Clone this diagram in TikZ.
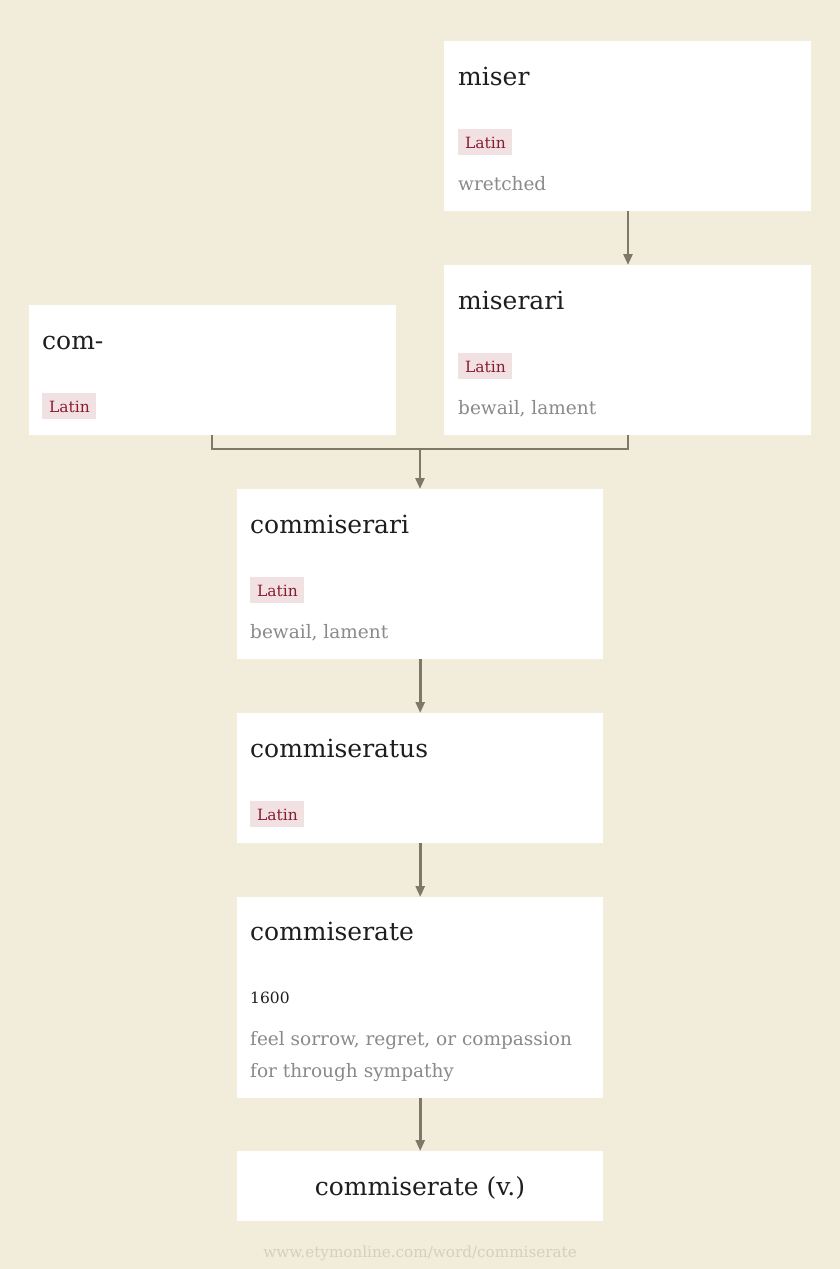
\documentclass[tikz,border=0pt]{standalone}
\usepackage{fontspec}
\setmainfont{DejaVu Serif}
\usetikzlibrary{arrows.meta}
\definecolor{bg}{HTML}{F2ECDA}
\definecolor{lnc}{HTML}{7E7868}
\definecolor{tagbg}{HTML}{F2E1E3}
\definecolor{tagfg}{HTML}{8A1C30}
\definecolor{defc}{HTML}{8A8A8A}
\definecolor{titc}{HTML}{1E1E1E}
\definecolor{urlc}{HTML}{D6CFC0}
\tikzset{
  box/.style={fill=white, draw=none, inner sep=0pt, anchor=north west},
  title/.style={anchor=base west, inner sep=0pt, text=titc, font=\fontsize{25}{30}\selectfont},
  tagtext/.style={anchor=base west, inner sep=0pt, text=tagfg, font=\fontsize{15.5}{18}\selectfont},
  tagbox/.style={fill=tagbg, draw=none, inner sep=0pt, anchor=north west, minimum width=54pt, minimum height=26pt},
  deftext/.style={anchor=base west, inner sep=0pt, text=defc, font=\fontsize{18.5}{22}\selectfont},
  datetext/.style={anchor=base west, inner sep=0pt, text=titc, font=\fontsize{15.5}{18}\selectfont},
  conn/.style={draw=lnc, line width=2.6pt},
  arr/.style={conn, -{Triangle[length=11pt,width=9pt]}}
}
\begin{document}
\begin{tikzpicture}[x=1pt,y=-1pt]
\fill[bg] (0,0) rectangle (840,1269);
\useasboundingbox (0,0) rectangle (840,1269);

% miser
\node[box, minimum width=367pt, minimum height=170pt] (miser) at (444,41) {};
\node[title] (miserT) at (458,85) {miser};
\node[tagbox] (miserG) at (458,129) {};
\node[tagtext] (miserL) at (465,148) {Latin};
\node[deftext] (miserD) at (458,190) {wretched};

% miserari
\node[box, minimum width=367pt, minimum height=170pt] (miserari) at (444,265) {};
\node[title] (miserariT) at (458,309) {miserari};
\node[tagbox] (miserariG) at (458,353) {};
\node[tagtext] (miserariL) at (465,372) {Latin};
\node[deftext] (miserariD) at (458,414) {bewail, lament};

% com-
\node[box, minimum width=367pt, minimum height=130pt] (com) at (29,305) {};
\node[title] (comT) at (42,349) {com-};
\node[tagbox] (comG) at (42,393) {};
\node[tagtext] (comL) at (49,412) {Latin};

% commiserari
\node[box, minimum width=366pt, minimum height=170pt] (cari) at (237,489) {};
\node[title] (cariT) at (250,533) {commiserari};
\node[tagbox] (cariG) at (250,577) {};
\node[tagtext] (cariL) at (257,596) {Latin};
\node[deftext] (cariD) at (250,638) {bewail, lament};

% commiseratus
\node[box, minimum width=366pt, minimum height=130pt] (catus) at (237,713) {};
\node[title] (catusT) at (250,757) {commiseratus};
\node[tagbox] (catusG) at (250,801) {};
\node[tagtext] (catusL) at (257,820) {Latin};

% commiserate
\node[box, minimum width=366pt, minimum height=201pt] (cate) at (237,897) {};
\node[title] (cateT) at (250,940) {commiserate};
\node[datetext] (cateY) at (250,1003) {1600};
\node[deftext] (cateD) at (250,1045) {feel sorrow, regret, or compassion};
\node[deftext] (cateE) at (250,1077) {for through sympathy};

% commiserate (v.)
\node[box, minimum width=366pt, minimum height=70pt] (final) at (237,1151) {};
\node[title, anchor=base] (finalT) at (420,1195) {commiserate (v.)};

% url
\node[anchor=base, inner sep=0pt, text=urlc, font=\fontsize{15.2}{17}\selectfont] (url) at (420,1257) {www.etymonline.com/word/commiserate};

% connectors
\coordinate (mA) at (628,211);
\coordinate (mB) at (628,265);
\draw[arr] (mA) -- (mB);

\coordinate (cL) at (212,435);
\coordinate (cR) at (628,435);
\coordinate (jL) at (212,449);
\coordinate (jR) at (628,449);
\coordinate (jM) at (420,449);
\coordinate (jT) at (420,489);
\draw[conn] (cL) -- (jL) -- (jR) -- (cR);
\draw[arr] (jM) -- (jT);

\draw[arr] (cari.south) -- (catus.north);
\draw[arr] (catus.south) -- (cate.north);
\draw[arr] (cate.south) -- (final.north);
\end{tikzpicture}
\end{document}
